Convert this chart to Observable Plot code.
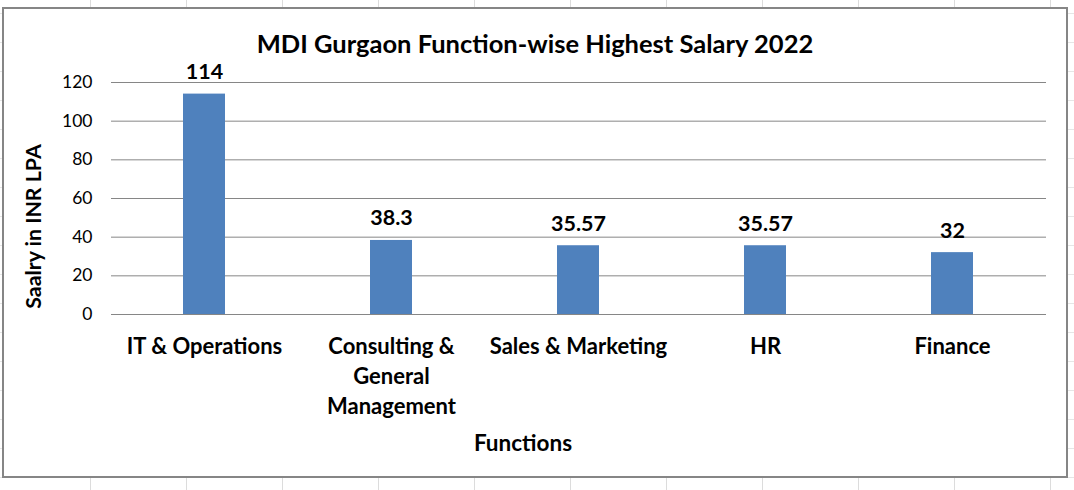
<!DOCTYPE html>
<html><head><meta charset="utf-8">
<script src="https://cdn.jsdelivr.net/npm/d3@7"></script>
<script src="https://cdn.jsdelivr.net/npm/@observablehq/plot@0.6"></script>
<style>
html,body{margin:0;padding:0;width:1074px;height:490px;overflow:hidden;background:#fff;font-family:Lato,sans-serif;}
body{background-image:linear-gradient(to right,#dcdcdc 1px,transparent 1px),linear-gradient(to bottom,#e6e6e6 1px,transparent 1px);background-size:96px 29px;background-position:90px 13px;}
#frame{position:absolute;left:2px;top:7px;width:1062px;height:467px;border:2px solid #868686;background:#fff;}
#title{position:absolute;left:0;top:28px;width:1070px;line-height:30px;text-align:center;font-weight:bold;font-size:25.5px;color:#000;}
#chart{position:absolute;left:6px;top:50px;}
#chart svg{background:transparent;}
</style></head>
<body>
<div id="frame"></div>
<div id="title">MDI Gurgaon Function-wise Highest Salary 2022</div>
<div id="chart"></div>
<script>
const functions = ["IT & Operations", "Consulting & General Management", "Sales & Marketing", "HR", "Finance"];
const salaries = [114, 38.3, 35.57, 35.57, 32];
const valueLabels = ["114", "38.3", "35.57", "35.57", "32"];
const tickLabels = ["IT & Operations", "Consulting &\nGeneral\nManagement", "Sales & Marketing", "HR", "Finance"];
const yTicks = [0, 20, 40, 60, 80, 100, 120];
const xTitle = "Functions";
const yTitle = "Saalry in INR LPA";

const data = functions.map((f, i) => ({f, v: salaries[i], label: valueLabels[i], tick: tickLabels[i]}));
const tickMap = new Map(data.map(d => [d.f, d.tick]));

const chart = Plot.plot({
  width: 1058,
  height: 420,
  marginTop: 32,
  marginBottom: 156,
  marginLeft: 105,
  marginRight: 18,
  style: {background: "transparent", fontFamily: "Lato, sans-serif", color: "#000"},
  x: {domain: functions, paddingInner: 0.775, paddingOuter: 0.3875, label: null},
  y: {domain: [0, 120], label: null},
  marks: [
    Plot.gridY(yTicks, {stroke: "#868686", strokeOpacity: 1, strokeWidth: 1}),
    Plot.barY(data, {x: "f", y: "v", fill: "#4F81BD"}),
    Plot.text(data, {x: "f", y: "v", text: "label", dy: -22, fontSize: 21.5, fontWeight: "bold", fill: "#000"}),
    Plot.axisY(yTicks, {tickSize: 0, tickPadding: 19, fontSize: 17.5, label: null, fill: "#000"}),
    Plot.axisX({tickSize: 0, tickPadding: 18, fontSize: 22, fontWeight: "bold", lineHeight: 1.36, tickFormat: d => tickMap.get(d), label: null, fill: "#000"}),
    Plot.text([xTitle], {frameAnchor: "bottom", textAnchor: "middle", lineAnchor: "middle", dx: -56, dy: 129, fontSize: 22.5, fontWeight: "bold", fill: "#000"}),
    Plot.text([yTitle], {frameAnchor: "left", textAnchor: "middle", lineAnchor: "middle", rotate: -90, dx: -77, dy: 28, fontSize: 21.3, fontWeight: "bold", fill: "#000"})
  ]
});
document.getElementById("chart").appendChild(chart);
</script>
</body></html>
